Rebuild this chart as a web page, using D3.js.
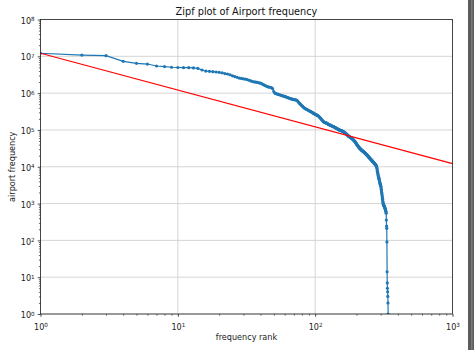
<!DOCTYPE html>
<html>
<head>
<meta charset="utf-8">
<script src="https://cdn.jsdelivr.net/npm/d3@7"></script>
<style>
  html, body { margin: 0; padding: 0; background: #fff; }
  svg { display: block; font-family: "DejaVu Sans", sans-serif; }
</style>
</head>
<body>
<svg id="chart" width="474" height="350"></svg>
<script>
// Airport passenger counts, sorted from busiest (rank 1) to quietest.
const frequency = [
  12100000, 10800000, 10400000, 7300000, 6450000, 6170000, 5450000, 5250000, 5050000, 4970000,
  4920000, 4900000, 4850000, 4700000, 4250000, 3980000, 3910000, 3830000, 3750000, 3680000,
  3550000, 3390000, 3310000, 3160000, 2950000, 2820000, 2690000, 2570000, 2510000, 2450000,
  2400000, 2340000, 2240000, 2140000, 2070000, 2020000, 2000000, 1950000, 1910000, 1860000,
  1780000, 1700000, 1620000, 1550000, 1500000, 1460000, 1440000, 1410000, 1320000, 1100000,
  989000, 966000, 944000, 923000, 902000, 881000, 861000, 841000, 832000, 813000,
  794000, 776000, 759000, 741000, 724000, 708000, 700000, 684000, 676000, 668000,
  661000, 653000, 646000, 624000, 589000, 556000, 525000, 501000, 479000, 457000,
  437000, 417000, 398000, 386000, 376000, 367000, 359000, 351000, 343000, 335000,
  327000, 320000, 313000, 305000, 299000, 292000, 285000, 279000, 272000, 266000,
  260000, 257000, 254000, 248000, 243000, 234000, 226000, 219000, 211000, 204000,
  195000, 186000, 180000, 174000, 167000, 164000, 160000, 158000, 157000, 155000,
  153000, 151000, 148000, 145000, 141000, 140000, 138000, 136000, 135000, 133000,
  130000, 129000, 127000, 126000, 124000, 122000, 121000, 119000, 118000, 116000,
  114000, 112000, 110000, 109000, 107000, 106000, 104000, 103000, 101000, 100000,
  99100, 98200, 97300, 96400, 95500, 94400, 93300, 92300, 91200, 90200,
  89100, 87500, 86100, 84500, 83200, 81700, 80200, 78700, 77300, 75900,
  74100, 72400, 70800, 69200, 67600, 66700, 65800, 64900, 64000, 63100,
  62200, 61400, 60500, 59700, 58900, 57800, 56800, 55700, 54700, 53700,
  52500, 51300, 50100, 49000, 47900, 46600, 45300, 44100, 42900, 41700,
  40600, 39400, 38400, 37300, 36300, 35500, 34700, 33900, 33100, 32400,
  31600, 31100, 30600, 30100, 29600, 29200, 28700, 28200, 27800, 27400,
  27000, 26600, 26200, 25900, 25500, 25200, 24800, 24500, 24200, 23800,
  23400, 23100, 22700, 22300, 22000, 21600, 21300, 20900, 20600, 20300,
  20000, 19500, 19100, 18750, 18450, 18150, 17850, 17600, 17300, 17000,
  16750, 16500, 16200, 15950, 15700, 15450, 15200, 14950, 14700, 14500,
  14250, 14050, 13800, 13600, 13350, 13150, 12950, 12750, 12550, 12300,
  12100, 11900, 11700, 11550, 11350, 11150, 10950, 10700, 10400, 10000,
  9500, 8900, 8200, 7600, 7000, 6600, 6100, 5700, 5400, 5200,
  4900, 4600, 4350, 4100, 3900, 3700, 3500, 3350, 3200, 3050,
  2900, 2700, 2450, 2200, 2000, 1850, 1700, 1550, 1400, 1280,
  1150, 1050, 1000, 960, 930, 900, 875, 850, 830, 805,
  780, 760, 735, 710, 680, 650, 620, 590, 545, 355,
  245, 212, 91, 14, 7, 5, 4, 3, 2, 1
];
const ranks = frequency.map((_, i) => i + 1);

// Zipf reference: top frequency divided by rank, across the rank axis.
const zipfRanks = [1, 1000];

const xTicks = [1, 10, 100, 1000];
const yTicks = [1, 10, 100, 1e3, 1e4, 1e5, 1e6, 1e7, 1e8];

const titleText = "Zipf plot of Airport frequency";
const xLabel = "frequency rank";
const yLabel = "airport frequency";

const svg = d3.select("#chart");
const plotLeft = 40.5, plotRight = 452.5, plotTop = 19.5, plotBottom = 314;

const x = d3.scaleLog().domain([1, 1000]).range([plotLeft, plotRight]);
const y = d3.scaleLog().domain([1, 1e8]).range([plotBottom, plotTop]);

// dark strip along the right edge of the window
svg.append("rect").attr("x", 468).attr("y", 0).attr("width", 6).attr("height", 350)
  .attr("fill", "#5c5c5c");
svg.append("rect").attr("x", 471).attr("y", 0).attr("width", 1.5).attr("height", 350)
  .attr("fill", "#7a7a7a");

svg.append("defs").append("clipPath").attr("id", "plot-clip")
  .append("rect").attr("x", plotLeft).attr("y", plotTop)
  .attr("width", plotRight - plotLeft).attr("height", plotBottom - plotTop);

// grid
const grid = svg.append("g").attr("stroke", "#d0d0d0").attr("stroke-width", 0.9);
grid.selectAll(".gx").data(xTicks).join("line")
  .attr("x1", d => x(d)).attr("x2", d => x(d)).attr("y1", plotTop).attr("y2", plotBottom);
grid.selectAll(".gy").data(yTicks).join("line")
  .attr("x1", plotLeft).attr("x2", plotRight).attr("y1", d => y(d)).attr("y2", d => y(d));

// minor tick positions for each decade
function minorTicks(lo, hi) {
  const out = [];
  for (let p = lo; p < hi; p++) {
    for (let m = 2; m <= 9; m++) out.push(m * Math.pow(10, p));
  }
  return out;
}

const sup = (sel, p) => {
  sel.text(null);
  sel.append("tspan").text("10");
  sel.append("tspan").attr("dy", "-0.45em").attr("font-size", "0.7em").text(String(p));
};

// x axis
const xAxis = d3.axisBottom(x).tickValues(xTicks).tickSize(2.8).tickPadding(3)
  .tickFormat(() => "");
const gx = svg.append("g").attr("transform", `translate(0,${plotBottom})`).call(xAxis);
gx.select(".domain").remove();
gx.selectAll(".tick line").attr("stroke", "#000").attr("stroke-width", 0.7);
gx.selectAll(".tick text").attr("font-size", 8.1).attr("fill", "#222")
  .attr("font-family", "DejaVu Sans").attr("dy", "1.2em")
  .each(function (d) { sup(d3.select(this), Math.round(Math.log10(d))); });

const xMinor = d3.axisBottom(x).tickValues(minorTicks(0, 3)).tickSize(1.6).tickFormat(() => "");
const gxm = svg.append("g").attr("transform", `translate(0,${plotBottom})`).call(xMinor);
gxm.select(".domain").remove();
gxm.selectAll(".tick line").attr("stroke", "#000").attr("stroke-width", 0.6);

// y axis
const yAxis = d3.axisLeft(y).tickValues(yTicks).tickSize(2.8).tickPadding(3)
  .tickFormat(() => "");
const gy = svg.append("g").attr("transform", `translate(${plotLeft},0)`).call(yAxis);
gy.select(".domain").remove();
gy.selectAll(".tick line").attr("stroke", "#000").attr("stroke-width", 0.7);
gy.selectAll(".tick text").attr("font-size", 8.1).attr("fill", "#222")
  .attr("font-family", "DejaVu Sans").attr("dy", "0.45em")
  .each(function (d) { sup(d3.select(this), Math.round(Math.log10(d))); });

const yMinor = d3.axisLeft(y).tickValues(minorTicks(0, 8)).tickSize(1.6).tickFormat(() => "");
const gym = svg.append("g").attr("transform", `translate(${plotLeft},0)`).call(yMinor);
gym.select(".domain").remove();
gym.selectAll(".tick line").attr("stroke", "#000").attr("stroke-width", 0.6);

// data
const plot = svg.append("g").attr("clip-path", "url(#plot-clip)");
const pts = ranks.map((r, i) => [r, frequency[i]]);

plot.append("path")
  .attr("d", d3.line().x(d => x(d[0])).y(d => y(d[1]))(pts))
  .attr("fill", "none").attr("stroke", "#1f77b4").attr("stroke-width", 1.2);
plot.selectAll("circle.pt").data(pts).join("circle")
  .attr("class", "pt")
  .attr("cx", d => x(d[0])).attr("cy", d => y(d[1])).attr("r", 1.6)
  .attr("fill", "#1f77b4");

plot.append("path")
  .attr("d", d3.line().x(d => x(d)).y(d => y(frequency[0] / d))(zipfRanks))
  .attr("fill", "none").attr("stroke", "#ff0000").attr("stroke-width", 1.2);

// frame
svg.append("rect").attr("x", plotLeft).attr("y", plotTop)
  .attr("width", plotRight - plotLeft).attr("height", plotBottom - plotTop)
  .attr("fill", "none").attr("stroke", "#222").attr("stroke-width", 0.8);

// labels
svg.append("text").attr("x", (plotLeft + plotRight) / 2).attr("y", 15)
  .attr("text-anchor", "middle").attr("font-size", 9.75).attr("fill", "#111")
  .text(titleText);
svg.append("text").attr("x", (plotLeft + plotRight) / 2).attr("y", 339.5)
  .attr("text-anchor", "middle").attr("font-size", 8.1).attr("fill", "#222")
  .text(xLabel);
svg.append("text")
  .attr("transform", `translate(14.5,${(plotTop + plotBottom) / 2}) rotate(-90)`)
  .attr("text-anchor", "middle").attr("font-size", 8.1).attr("fill", "#222")
  .text(yLabel);
</script>
</body>
</html>
